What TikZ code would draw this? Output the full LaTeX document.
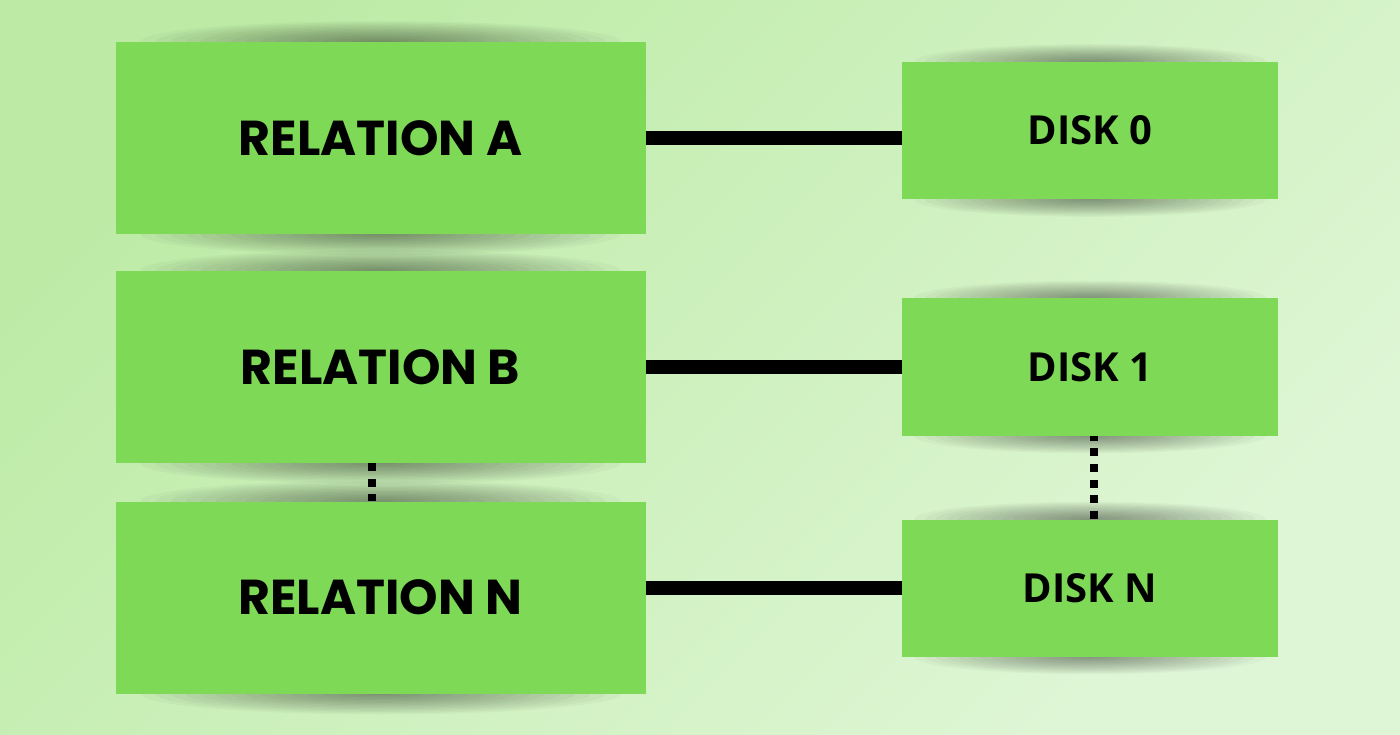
\documentclass[tikz,border=0pt]{standalone}
\usepackage{fontspec}
\newfontfamily\relfont{Poppins}
\newfontfamily\diskfont{Open Sans}
\usetikzlibrary{backgrounds}
\definecolor{boxgreen}{RGB}{126,217,87}
\definecolor{bgdark}{RGB}{189,235,166}
\definecolor{bglight}{RGB}{223,246,214}
\begin{document}
\begin{tikzpicture}[x=1pt,y=-1pt,
    relbox/.style={fill=boxgreen, minimum width=530pt, minimum height=192pt, inner sep=0pt,
        font=\relfont\bfseries\fontsize{49}{49}\selectfont},
    diskbox/.style={fill=boxgreen, minimum width=376pt, minimum height=137pt, inner sep=0pt,
        font=\diskfont\bfseries\fontsize{40}{40}\selectfont},
    link/.style={line width=14.7pt},
    dotlink/.style={line width=8pt, dash pattern=on 8pt off 7.6pt},
    softshadow/.style={fill=black, fill opacity=0.028}]
    \useasboundingbox (0,0) rectangle (1400,735);
    % boxes
    \node[relbox] (relA) at (380.5,138) {RELATION A};
    \node[relbox] (relB) at (380.5,367) {RELATION B};
    \node[relbox] (relN) at (380.5,597.5) {RELATION N};
    \node[diskbox] (disk0) at (1090,130.5) {DISK 0};
    \node[diskbox] (disk1) at (1090,367) {DISK 1};
    \node[diskbox] (diskN) at (1090,588) {DISK N};
    % links
    \draw[link] (relA.east) -- (relA.east -| disk0.west);
    \draw[link] (relB.east) -- (disk1.west);
    \draw[link] (diskN.west -| relN.east) -- (diskN.west);
    \draw[dotlink] ([xshift=-8.5pt]relB.south) -- ([xshift=-8.5pt]relN.north);
    \draw[dotlink, dash phase=3pt] ([xshift=4pt]disk1.south) -- ([xshift=4pt]diskN.north);
    % background and shadows
    \begin{pgfonlayer}{background}
        \fill[top color=bgdark, bottom color=bglight, shading angle=45] (0,0) rectangle (1400,735);
        \foreach \b in {relA,relB,relN}
            \foreach \k in {1,...,16} {
                \fill[softshadow] (\b.north) ellipse [x radius=15*\k, y radius=1.3*\k];
                \fill[softshadow] (\b.south) ellipse [x radius=15*\k, y radius=1.3*\k];
            }
        \foreach \b in {disk0,disk1,diskN}
            \foreach \k in {1,...,16} {
                \fill[softshadow] (\b.north) ellipse [x radius=11*\k, y radius=1.1*\k];
                \fill[softshadow] (\b.south) ellipse [x radius=11*\k, y radius=1.1*\k];
            }
    \end{pgfonlayer}
\end{tikzpicture}
\end{document}
